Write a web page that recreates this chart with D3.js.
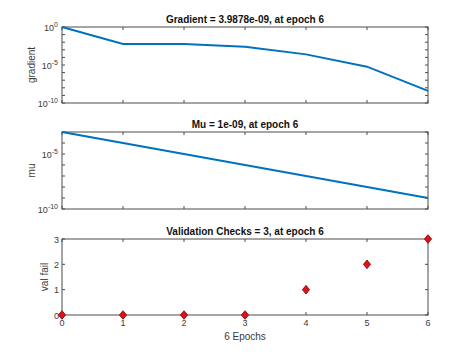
<!DOCTYPE html>
<html><head><meta charset="utf-8">
<script src="https://cdn.jsdelivr.net/npm/d3@7/dist/d3.min.js"></script>
<style>body{margin:0;background:#fff}svg{display:block;font-family:"Liberation Sans",Arial,sans-serif}</style>
</head><body><svg id="c" width="474" height="355"></svg>
<script>
const epochs = [0,1,2,3,4,5,6];
const gradient = [1, 5.8e-3, 6.0e-3, 2.6e-3, 2.5e-4, 6e-6, 3.9878e-9];
const mu = [1e-3,1e-4,1e-5,1e-6,1e-7,1e-8,1e-9];
const valFail = [0,0,0,0,1,2,3];
const gradTickLabels = [0,-5,-10];
const muTickLabels = [-5,-10];
const valTicks = [0,1,2,3];
const titles = ["Gradient = 3.9878e-09, at epoch 6","Mu = 1e-09, at epoch 6","Validation Checks = 3, at epoch 6"];

const svg = d3.select("#c");
const L = 62, R = 428;
const x = d3.scaleLinear().domain([0,6]).range([L,R]);
const axisCol = "#4d4d4d", textCol = "#3a3a3a";
const blue = "#0072BD";

function frame(top, bot, title){
  svg.append("rect").attr("x",L).attr("y",top).attr("width",R-L).attr("height",bot-top)
    .attr("fill","none").attr("stroke",axisCol).attr("stroke-width",1);
  epochs.forEach(e=>{
    svg.append("line").attr("x1",x(e)).attr("x2",x(e)).attr("y1",top).attr("y2",top+3).attr("stroke",axisCol);
    svg.append("line").attr("x1",x(e)).attr("x2",x(e)).attr("y1",bot).attr("y2",bot-3).attr("stroke",axisCol);
  });
  svg.append("text").attr("x",(L+R)/2).attr("y",top-4).attr("text-anchor","middle")
    .attr("font-size",10).attr("font-weight","bold").attr("fill","#111").text(title);
}
function ylabel(text, cx, cy){
  svg.append("text").attr("transform",`translate(${cx},${cy}) rotate(-90)`).attr("text-anchor","middle")
    .attr("font-size",10).attr("fill",textCol).text(text);
}
function logPanel(top, bot, dom, vals, labels, title, lab){
  const y = d3.scaleLog().domain(dom).range([bot,top]);
  frame(top,bot,title);
  const lo = Math.round(Math.log10(dom[0])), hi = Math.round(Math.log10(dom[1]));
  for(let p=lo;p<=hi;p++){
    const yy = y(Math.pow(10,p));
    svg.append("line").attr("x1",L).attr("x2",L+3).attr("y1",yy).attr("y2",yy).attr("stroke",axisCol);
    svg.append("line").attr("x1",R).attr("x2",R-3).attr("y1",yy).attr("y2",yy).attr("stroke",axisCol);
  }
  labels.forEach(p=>{
    const t = svg.append("text").attr("x",L-4).attr("y",y(Math.pow(10,p))+4).attr("text-anchor","end")
      .attr("font-size",9).attr("fill",textCol);
    t.append("tspan").text("10");
    t.append("tspan").attr("dy",-4).attr("font-size",7).text(p);
  });
  svg.append("path").datum(vals).attr("fill","none").attr("stroke",blue).attr("stroke-width",2)
    .attr("d",d3.line().x((d,i)=>x(epochs[i])).y(d=>y(d)));
  ylabel(lab, 35, (top+bot)/2);
}
logPanel(27,103,[1e-10,1],gradient,gradTickLabels,titles[0],"gradient");
logPanel(132,209,[1e-10,1e-3],mu,muTickLabels,titles[1],"mu");

// validation panel
const top3=239, bot3=315;
const y3 = d3.scaleLinear().domain([0,3]).range([bot3,top3]);
frame(top3,bot3,titles[2]);
valTicks.forEach(v=>{
  const yy=y3(v);
  svg.append("line").attr("x1",L).attr("x2",L+3).attr("y1",yy).attr("y2",yy).attr("stroke",axisCol);
  svg.append("line").attr("x1",R).attr("x2",R-3).attr("y1",yy).attr("y2",yy).attr("stroke",axisCol);
  svg.append("text").attr("x",L-3).attr("y",yy+3.5).attr("text-anchor","end").attr("font-size",9).attr("fill",textCol).text(v);
});
epochs.forEach(e=>{
  svg.append("text").attr("x",x(e)).attr("y",bot3+11).attr("text-anchor","middle").attr("font-size",9).attr("fill",textCol).text(e);
});
const dia = "M0,-4.3L3.6,0L0,4.3L-3.6,0Z";
svg.selectAll(".vm").data(valFail).join("path")
  .attr("transform",(d,i)=>`translate(${x(epochs[i])},${y3(d)})`)
  .attr("d",dia).attr("fill","#e0101a").attr("stroke","#8a1010").attr("stroke-width",0.9);
ylabel("val fail", 48, (top3+bot3)/2);
svg.append("text").attr("x",(L+R)/2).attr("y",340).attr("text-anchor","middle").attr("font-size",10).attr("fill",textCol).text("6 Epochs");
</script></body></html>
